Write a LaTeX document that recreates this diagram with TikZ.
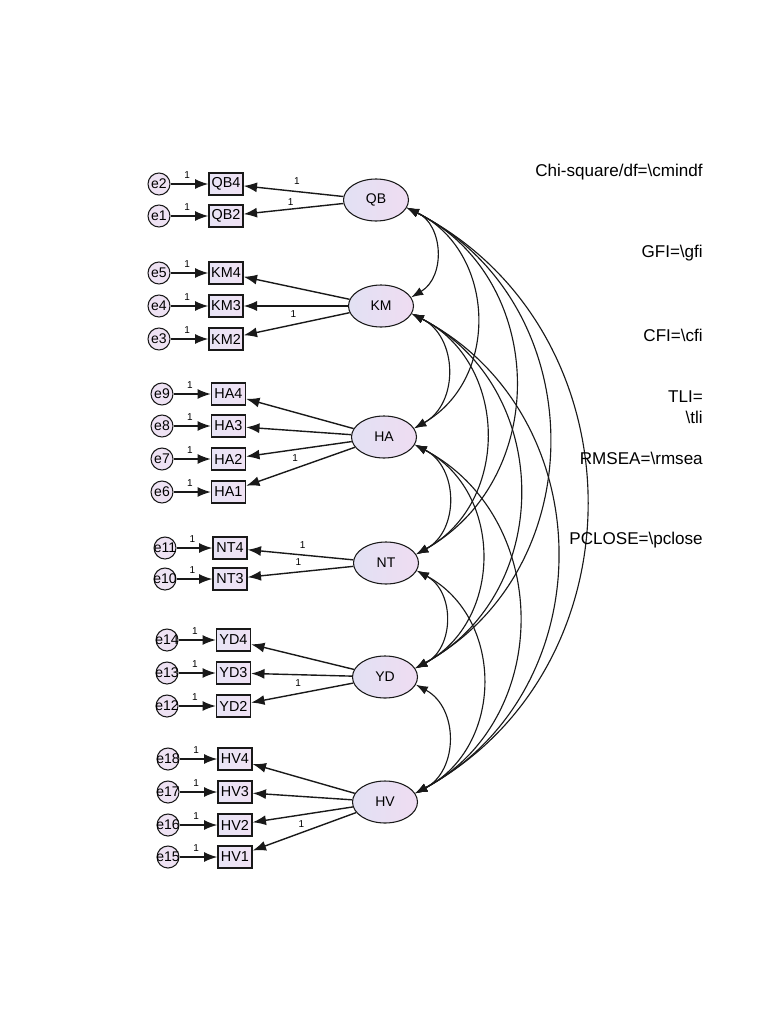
\documentclass[tikz,border=0pt]{standalone}
\usepackage{fontspec}
\setmainfont{Liberation Sans}
\usetikzlibrary{arrows.meta,shapes.geometric}
\definecolor{lavL}{RGB}{226,225,243}
\definecolor{lavR}{RGB}{239,220,242}
\definecolor{boxL}{RGB}{232,228,246}
\definecolor{boxR}{RGB}{240,226,244}
\definecolor{errfill}{RGB}{238,226,243}
\definecolor{ink}{RGB}{25,25,25}
\begin{document}
\begin{tikzpicture}[x=0.75pt,y=-0.75pt,
  lat/.style={ellipse, draw=ink, line width=0.8pt, left color=lavL, right color=lavR,
    minimum width=48.75pt, minimum height=31.5pt, inner sep=0pt,
    font=\fontsize{10.5}{11}\selectfont},
  obs/.style={rectangle, draw=ink, line width=1pt, left color=boxL, right color=boxR,
    minimum width=25.5pt, minimum height=16.5pt, inner sep=0pt,
    font=\fontsize{10.8}{11}\selectfont},
  err/.style={circle, draw=ink, line width=0.8pt, fill=errfill, minimum size=16.5pt,
    inner sep=0pt, font=\fontsize{10.5}{11}\selectfont},
  reg/.style={-{Latex[length=10pt,width=7.5pt]}, draw=ink, line width=1.05pt},
  cov/.style={{Latex[length=9pt,width=6.5pt]}-{Latex[length=9pt,width=6.5pt]}, draw=ink, line width=0.85pt},
  one/.style={font=\fontsize{7.5}{8}\selectfont, inner sep=1pt},
  stat/.style={anchor=east, font=\fontsize{12.8}{15.4}\selectfont, align=right, inner sep=0pt}
]
\useasboundingbox (0,0) rectangle (768,1024);

% latent variables
\node[lat] (QB) at (376,200) {QB};
\node[lat] (KM) at (381,306) {KM};
\node[lat] (HA) at (384,437) {HA};
\node[lat] (NT) at (386,563) {NT};
\node[lat] (YD) at (385,677) {YD};
\node[lat] (HV) at (385,802) {HV};

% observed variables
\node[obs] (QB4) at (226,184) {QB4};
\node[obs] (QB2) at (226,216) {QB2};
\node[obs] (KM4) at (226,273) {KM4};
\node[obs] (KM3) at (226,306) {KM3};
\node[obs] (KM2) at (226,339) {KM2};
\node[obs] (HA4) at (228.5,394) {HA4};
\node[obs] (HA3) at (228.5,426) {HA3};
\node[obs] (HA2) at (228.5,459) {HA2};
\node[obs] (HA1) at (228.5,492) {HA1};
\node[obs] (NT4) at (230,548) {NT4};
\node[obs] (NT3) at (230,579) {NT3};
\node[obs] (YD4) at (233.5,640) {YD4};
\node[obs] (YD3) at (233.5,673) {YD3};
\node[obs] (YD2) at (233.5,706) {YD2};
\node[obs] (HV4) at (235,759) {HV4};
\node[obs] (HV3) at (235,792) {HV3};
\node[obs] (HV2) at (235,825) {HV2};
\node[obs] (HV1) at (235,857) {HV1};

% error terms
\node[err] (e2) at (159,184) {\makebox[0pt]{e2}};
\node[err] (e1) at (159,216) {\makebox[0pt]{e1}};
\node[err] (e5) at (159,273) {\makebox[0pt]{e5}};
\node[err] (e4) at (159,306) {\makebox[0pt]{e4}};
\node[err] (e3) at (159,339) {\makebox[0pt]{e3}};
\node[err] (e9) at (162,394) {\makebox[0pt]{e9}};
\node[err] (e8) at (162,426) {\makebox[0pt]{e8}};
\node[err] (e7) at (162,459) {\makebox[0pt]{e7}};
\node[err] (e6) at (162,492) {\makebox[0pt]{e6}};
\node[err] (e11) at (165,548) {\makebox[0pt]{e11}};
\node[err] (e10) at (165,579) {\makebox[0pt]{e10}};
\node[err] (e14) at (167,640) {\makebox[0pt]{e14}};
\node[err] (e13) at (167,673) {\makebox[0pt]{e13}};
\node[err] (e12) at (167,706) {\makebox[0pt]{e12}};
\node[err] (e18) at (168,759) {\makebox[0pt]{e18}};
\node[err] (e17) at (168,792) {\makebox[0pt]{e17}};
\node[err] (e16) at (168,825) {\makebox[0pt]{e16}};
\node[err] (e15) at (168,857) {\makebox[0pt]{e15}};

% error -> indicator
\foreach \e/\o in {e2/QB4,e1/QB2,e5/KM4,e4/KM3,e3/KM2,e9/HA4,e8/HA3,e7/HA2,e6/HA1,
  e11/NT4,e10/NT3,e14/YD4,e13/YD3,e12/YD2,e18/HV4,e17/HV3,e16/HV2,e15/HV1}
  \draw[reg] (\e) -- (\o) node[one, pos=0.44, above=2.3pt] {1};

% factor -> indicator
\draw[reg] (QB) -- (QB4) node[one, pos=0.465, above=4pt] {1};
\draw[reg] (QB) -- (QB2) node[one, pos=0.53, above=1pt] {1};
\draw[reg] (KM) -- (KM4);
\draw[reg] (KM) -- (KM3);
\draw[reg] (KM) -- (KM2) node[one, pos=0.53, above=3.5pt] {1};
\draw[reg] (HA) -- (HA4);
\draw[reg] (HA) -- (HA3);
\draw[reg] (HA) -- (HA2);
\draw[reg] (HA) -- (HA1) node[one, pos=0.55, above=3.5pt] {1};
\draw[reg] (NT) -- (NT4) node[one, pos=0.48, above=3.5pt] {1};
\draw[reg] (NT) -- (NT3) node[one, pos=0.52, above=3pt] {1};
\draw[reg] (YD) -- (YD4);
\draw[reg] (YD) -- (YD3);
\draw[reg] (YD) -- (YD2) node[one, pos=0.54, above=4pt] {1};
\draw[reg] (HV) -- (HV4);
\draw[reg] (HV) -- (HV3);
\draw[reg] (HV) -- (HV2);
\draw[reg] (HV) -- (HV1) node[one, pos=0.53, above=2pt] {1};

% covariances
\foreach \a/\b in {QB/KM,QB/HA,QB/NT,QB/YD,QB/HV,KM/HA,KM/NT,KM/YD,KM/HV,
  HA/NT,HA/YD,HA/HV,NT/YD,NT/HV,YD/HV}
  \draw[cov] (\a.-14) to[bend left=62, looseness=1.15] (\b.16);

% fit statistics
\node[stat] (chi) at (703,172) {Chi-square/df=\textbackslash cmindf};
\node[stat] (gfi) at (703,253) {GFI=\textbackslash gfi};
\node[stat] (cfi) at (703,335) {CFI=\textbackslash cfi};
\node[stat] (tli) at (703,407) {TLI=\\\textbackslash tli};
\node[stat] (rmsea) at (703,458) {RMSEA=\textbackslash rmsea};
\node[stat] (pclose) at (703,540) {PCLOSE=\textbackslash pclose};
\end{tikzpicture}
\end{document}
